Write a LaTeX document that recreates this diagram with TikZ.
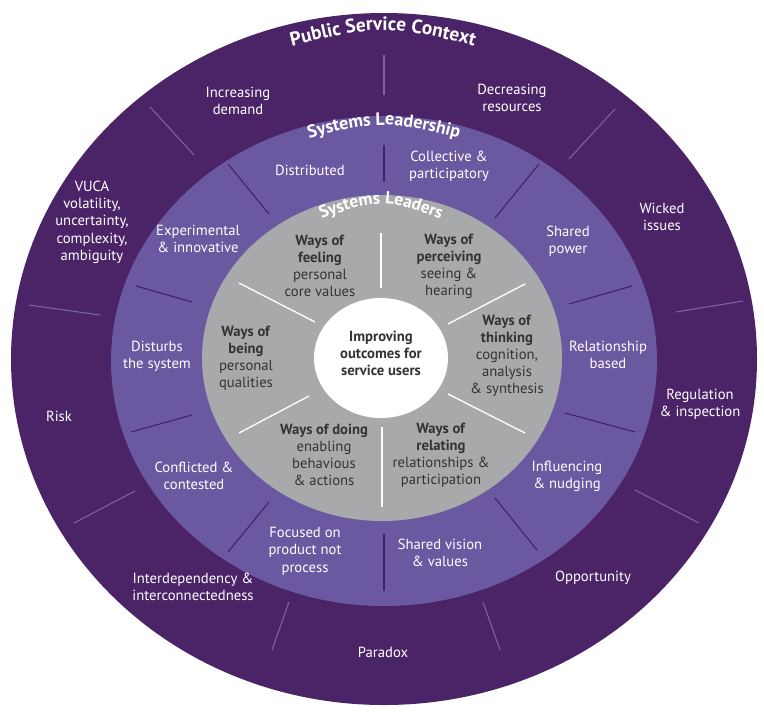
\documentclass[tikz,border=0pt]{standalone}
\usepackage{fontspec}
\setmainfont{PT Sans}
\usetikzlibrary{decorations.text}
\definecolor{outerc}{HTML}{4B2468}
\definecolor{midc}{HTML}{6A58A0}
\definecolor{grayc}{HTML}{A8A9AB}
\definecolor{txtd}{HTML}{333333}
\definecolor{odiv}{HTML}{7A62A8}
\definecolor{mdiv}{HTML}{45206A}
\begin{document}
\begin{tikzpicture}[x=0.75pt,y=-0.75pt,
  lab/.style={align=center,text=white,font=\fontsize{11}{13}\selectfont},
  ilab/.style={align=center,text=txtd,font=\fontsize{11}{12.8}\selectfont},
  odl/.style={draw=odiv,line width=0.8pt},
  mdl/.style={draw=mdiv,line width=0.8pt},
  idl/.style={draw=white,line width=1pt}]
\useasboundingbox (0,0) rectangle (764,711);
\fill[white] (0,0) rectangle (764,711);
\fill[outerc] (384,359) ellipse [x radius=373,y radius=346];
\fill[midc] (384,361) ellipse [x radius=273,y radius=245];
\fill[grayc] (382,358) ellipse [x radius=180,y radius=163];
\fill[white] (381,358) ellipse [x radius=67,y radius=60];
% outer dividers
\coordinate (o1a) at (384,55); \coordinate (o1b) at (384,95); \draw[odl] (o1a)--(o1b);
\coordinate (o2a) at (150,107); \coordinate (o2b) at (194,155); \draw[odl] (o2a)--(o2b);
\coordinate (o3a) at (615,109); \coordinate (o3b) at (569,159); \draw[odl] (o3a)--(o3b);
\coordinate (o4a) at (29,305); \coordinate (o4b) at (100,315); \draw[odl] (o4a)--(o4b);
\coordinate (o5a) at (743,301); \coordinate (o5b) at (676,312); \draw[odl] (o5a)--(o5b);
\coordinate (o6a) at (74,523); \coordinate (o6b) at (135,491); \draw[odl] (o6a)--(o6b);
\coordinate (o7a) at (699,523); \coordinate (o7b) at (635,490); \draw[odl] (o7a)--(o7b);
\coordinate (o8a) at (289,602); \coordinate (o8b) at (272,650); \draw[odl] (o8a)--(o8b);
\coordinate (o9a) at (483,602); \coordinate (o9b) at (500,650); \draw[odl] (o9a)--(o9b);
% middle dividers
\coordinate (m1a) at (384,145); \coordinate (m1b) at (384,182); \draw[mdl] (m1a)--(m1b);
\coordinate (m2a) at (228,164); \coordinate (m2b) at (269,214); \draw[mdl] (m2a)--(m2b);
\coordinate (m3a) at (539,164); \coordinate (m3b) at (495,218); \draw[mdl] (m3a)--(m3b);
\coordinate (m4a) at (136,286); \coordinate (m4b) at (192,302); \draw[mdl] (m4a)--(m4b);
\coordinate (m5a) at (632,286); \coordinate (m5b) at (569,304); \draw[mdl] (m5a)--(m5b);
\coordinate (m6a) at (131,432); \coordinate (m6b) at (192,415); \draw[mdl] (m6a)--(m6b);
\coordinate (m7a) at (635,432); \coordinate (m7b) at (565,413); \draw[mdl] (m7a)--(m7b);
\coordinate (m8a) at (228,552); \coordinate (m8b) at (269,502); \draw[mdl] (m8a)--(m8b);
\coordinate (m9a) at (537,550); \coordinate (m9b) at (495,498); \draw[mdl] (m9a)--(m9b);
\coordinate (m10a) at (384,534); \coordinate (m10b) at (384,591); \draw[mdl] (m10a)--(m10b);
% inner dividers
\coordinate (i1a) at (381,233); \coordinate (i1b) at (381,288); \draw[idl] (i1a)--(i1b);
\coordinate (i2a) at (239,283); \coordinate (i2b) at (315,322); \draw[idl] (i2a)--(i2b);
\coordinate (i3a) at (525,284); \coordinate (i3b) at (448,324); \draw[idl] (i3a)--(i3b);
\coordinate (i4a) at (309,396); \coordinate (i4b) at (239,433); \draw[idl] (i4a)--(i4b);
\coordinate (i5a) at (448,394); \coordinate (i5b) at (525,433); \draw[idl] (i5a)--(i5b);
\coordinate (i6a) at (382,427); \coordinate (i6b) at (382,507); \draw[idl] (i6a)--(i6b);
% curved titles
\path[decorate,decoration={text along path,text align=center,
  text={|\fontsize{14.5}{14.5}\selectfont\bfseries\color{white}|Public Service Context}}]
  (258,55) .. controls (383,22) .. (508,55);
\path[decorate,decoration={text along path,text align=center,
  text={|\fontsize{13.5}{13.5}\selectfont\bfseries\color{white}|Systems Leadership}}]
  (280,146) .. controls (383,118) .. (488,146);
\path[decorate,decoration={text along path,text align=center,
  text={|\fontsize{13}{13}\selectfont\bfseries\color{white}|Systems Leaders}}]
  (298,228) .. controls (381,196) .. (464,228);
% outer labels
\node[lab] (t1) at (238,101) {Increasing\\demand};
\node[lab] (t2) at (512,98) {Decreasing\\resources};
\node[lab] (t3) at (662,217) {Wicked\\issues};
\node[lab] (t4) at (700,404) {Regulation\\\& inspection};
\node[lab] (t5) at (593,578) {Opportunity};
\node[lab] (t6) at (383,652) {Paradox};
\node[lab] (t7) at (193,587) {Interdependency \&\\interconnectedness};
\node[lab] (t8) at (59,416) {Risk};
\node[lab] (t9) at (92,222) {VUCA\\volatility,\\uncertainty,\\complexity,\\ambiguity};
% middle labels
\node[lab] (s1) at (310,170) {Distributed};
\node[lab] (s2) at (449,166) {Collective \&\\participatory};
\node[lab] (s3) at (568,241) {Shared\\power};
\node[lab] (s4) at (608,355) {Relationship\\based};
\node[lab] (s5) at (567,476) {Influencing\\\& nudging};
\node[lab] (s6) at (440,553) {Shared vision\\\& values};
\node[lab] (s7) at (305,551) {Focused on\\product not\\process};
\node[lab] (s8) at (194,476) {Conflicted \&\\contested};
\node[lab] (s9) at (157,356) {Disturbs\\the system};
\node[lab] (s10) at (198,239) {Experimental\\\& innovative};
% inner labels
\node[ilab] (w1) at (320,266) {\textbf{Ways of}\\\textbf{feeling}\\personal\\core values};
\node[ilab] (w2) at (449,266) {\textbf{Ways of}\\\textbf{perceiving}\\seeing \&\\hearing};
\node[ilab] (w3) at (246,358) {\textbf{Ways of}\\\textbf{being}\\personal\\qualities};
\node[ilab] (w4) at (507,356) {\textbf{Ways of}\\\textbf{thinking}\\cognition,\\analysis\\\& synthesis};
\node[ilab] (w5) at (324,455) {\textbf{Ways of doing}\\enabling\\behavious\\\& actions};
\node[ilab] (w6) at (441,455) {\textbf{Ways of}\\\textbf{relating}\\relationships \&\\participation};
\node[ilab,font=\fontsize{11}{12.8}\selectfont\bfseries] (c) at (381,353) {Improving\\outcomes for\\service users};
\end{tikzpicture}
\end{document}
